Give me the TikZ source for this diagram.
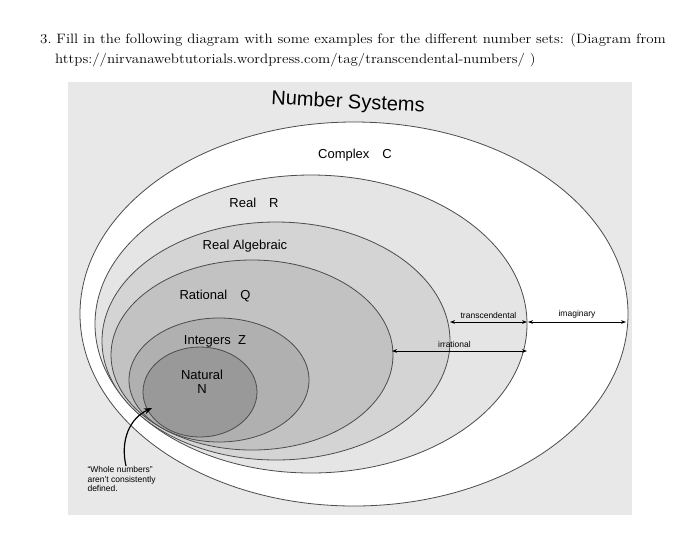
\documentclass[tikz,border=0pt]{standalone}
\usepackage{fontspec}
\newfontfamily\dsf{Liberation Sans}
\usetikzlibrary{arrows.meta}
\begin{document}
\begin{tikzpicture}[x=1pt,y=-1pt,
  ell/.style={draw=black!70,line width=0.8pt},
  lab/.style={font=\dsf\fontsize{13}{14}\selectfont},
  slab/.style={font=\dsf\fontsize{8.5}{9.5}\selectfont},
  hd/.style={anchor=west,inner sep=0,xscale=1.1,font=\fontsize{13.6}{15}\selectfont},
  dim/.style={line width=0.8pt,{Stealth[length=5pt]}-{Stealth[length=5pt]}}]
\useasboundingbox (0,0) rectangle (700,558);
\fill[white] (0,0) rectangle (700,558);
\node[hd] (h1) at (40,40) {3.\ Fill in the following diagram with some examples for the different number sets: (Diagram from};
\node[hd] (h2) at (55,60) {https://nirvanawebtutorials.wordpress.com/tag/transcendental-numbers/ )};
\fill[black!9] (68,82) rectangle (632,515);
\draw[ell,fill=white] (354,314) ellipse [x radius=274,y radius=192];
\draw[ell,fill=black!10] (311,324) ellipse [x radius=216,y radius=149];
\draw[ell,fill=black!17] (276,341) ellipse [x radius=174,y radius=119];
\draw[ell,fill=black!24] (252,355) ellipse [x radius=141,y radius=95];
\draw[ell,fill=black!31] (219,380) ellipse [x radius=90,y radius=62];
\draw[ell,fill=black!40] (200,392) ellipse [x radius=57,y radius=45];
\node[rotate=-3,font=\dsf\fontsize{20}{22}\selectfont] (title) at (348,103) {Number Systems};
\node[lab] (cx) at (355,155) {Complex\quad C};
\node[lab] (re) at (254,203) {Real\quad R};
\node[lab] (ra) at (245,246) {Real Algebraic};
\node[lab] (rq) at (215,296) {Rational\quad Q};
\node[lab] (in) at (215,341) {Integers\ \ Z};
\node[lab,align=center] (na) at (202,382) {Natural\\N};
\coordinate (t1) at (450,322); \coordinate (t2) at (527,322);
\coordinate (i1) at (392,351); \coordinate (i2) at (527,351);
\coordinate (m1) at (528,322); \coordinate (m2) at (626,322);
\draw[dim] (t1) -- (t2) node[midway,above,slab] (tl) {transcendental};
\draw[dim] (i1) -- (i2) node[midway,above,slab,xshift=-5] (il) {irrational};
\draw[dim] (m1) -- (m2) node[midway,above,slab] (ml) {imaginary};
\node[slab,anchor=north west,align=left] (wn) at (84,463) {“Whole numbers”\\aren’t consistently\\defined.};
\coordinate (w0) at (126,466);
\coordinate (w1) at (152,408);
\draw[line width=1.2pt,-{Stealth[length=8pt]}] (w0) .. controls (120,440) and (130,418) .. (w1);
\end{tikzpicture}
\end{document}
